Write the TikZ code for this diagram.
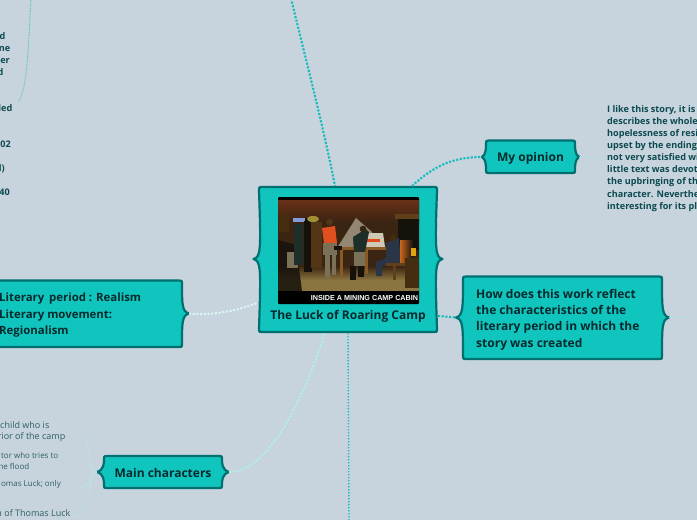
\documentclass[tikz,border=0pt]{standalone}
\usepackage{fontspec}
\setmainfont{Open Sans}
\newfontfamily\capfont{Liberation Sans}
\definecolor{bgc}{HTML}{C7D3DD}
\definecolor{boxfill}{HTML}{11C5BF}
\definecolor{boxline}{HTML}{006F70}
\definecolor{ink}{HTML}{06292C}
\definecolor{subink}{HTML}{0C4A50}
\definecolor{regink}{HTML}{2F5F66}
\definecolor{teal1}{HTML}{14BDBB}
\definecolor{pale1}{HTML}{DDF6F4}
\definecolor{pale2}{HTML}{A9E8E8}
\definecolor{cyan1}{HTML}{B2EEEE}
\definecolor{pwall}{HTML}{3A2412}
\definecolor{proof}{HTML}{6A3018}
\definecolor{pfloor}{HTML}{8A7440}
\definecolor{pdark}{HTML}{15120C}
\definecolor{pcloth}{HTML}{CFC8B4}
\definecolor{pwood}{HTML}{8A5A24}
\definecolor{pgrey}{HTML}{7B7058}
\definecolor{pshirt}{HTML}{E0501E}
\definecolor{pcoat}{HTML}{1E2E28}
\definecolor{pblue}{HTML}{2A3648}
\definecolor{pfire}{HTML}{C9661E}
\tikzset{
  anchorbox/.style={inner sep=0pt,outer sep=0pt,rectangle},
  outlinebox/.style={fill=boxfill,draw=boxline,line width=2.2pt,line join=round},
  titletext/.style={font=\bfseries\fontsize{12}{14}\selectfont,text=ink,inner sep=0pt},
  bigtext/.style={font=\bfseries\fontsize{12}{16.4}\selectfont,text=ink,inner sep=0pt,align=left,anchor=north west},
  leftbigtext/.style={font=\bfseries\fontsize{11.4}{16.4}\selectfont,text=ink,inner sep=0pt,align=left,anchor=north west},
  notetext/.style={font=\bfseries\fontsize{9.1}{12.1}\selectfont,text=subink,inner sep=0pt,align=left,anchor=north west},
  edgenote/.style={font=\bfseries\fontsize{9.1}{10}\selectfont,text=subink,inner sep=0pt,anchor=east},
  charnote/.style={font=\fontsize{9}{10}\selectfont,text=regink,inner sep=0pt,anchor=east},
  charnotesmall/.style={font=\fontsize{8}{10}\selectfont,text=regink,inner sep=0pt,anchor=east},
  thickdots/.style={dash pattern=on 2.1pt off 1.6pt,line width=2.1pt},
  middots/.style={dash pattern=on 1.4pt off 1.6pt,line width=1.4pt},
  finedots/.style={dash pattern=on 0.9pt off 1.1pt,line width=0.9pt},
}
% name, xl, yt, xr, yb, ymid, tip length, bow
\newcommand{\bracebox}[8]{%
  \pgfmathsetmacro{\xa}{#2+3}\pgfmathsetmacro{\xb}{#4-3}%
  \pgfmathsetmacro{\ya}{#3+3}\pgfmathsetmacro{\yb}{#5-3}%
  \pgfmathsetmacro{\tr}{#4+#7}\pgfmathsetmacro{\tl}{#2-#7}%
  \pgfmathsetmacro{\ca}{#6-2}\pgfmathsetmacro{\cb}{#6+2}%
  \pgfmathsetmacro{\da}{#6-9}\pgfmathsetmacro{\db}{#6+9}%
  \pgfmathsetmacro{\ir}{#4-#8}\pgfmathsetmacro{\il}{#2+#8}%
  \path[outlinebox] (\xa,#3) -- (\xb,#3) .. controls (#4,#3) and (#4,#3) .. (#4,\ya)
    .. controls (\ir,\da) and (\ir,\ca) .. (\tr,#6)
    .. controls (\ir,\cb) and (\ir,\db) .. (#4,\yb)
    .. controls (#4,#5) and (#4,#5) .. (\xb,#5) -- (\xa,#5)
    .. controls (#2,#5) and (#2,#5) .. (#2,\yb)
    .. controls (\il,\db) and (\il,\cb) .. (\tl,#6)
    .. controls (\il,\ca) and (\il,\da) .. (#2,\ya)
    .. controls (#2,#3) and (#2,#3) .. (\xa,#3) -- cycle;
  \node[anchorbox,minimum width={(#4-#2+2*#7)*1pt},minimum height={(#5-#3)*1pt}] (#1)
    at ({(#2+#4)/2},#6) {};%
}
\begin{document}
\begin{tikzpicture}[x=1pt,y=-1pt]
\useasboundingbox (0,0) rectangle (697,520);
\fill[bgc] (0,0) rectangle (697,520);
\clip (0,0) rectangle (697,520);

% free ends
\coordinate (topend) at (291,-2);
\coordinate (bottomend) at (349,522);
\coordinate (tlA) at (31,-2);
\coordinate (tlB) at (18,102);
\coordinate (opnote) at (603,157);
\coordinate (hownote) at (699,317);
\coordinate (ch1) at (76,430);
\coordinate (ch2) at (75,460);
\coordinate (ch3) at (76,488);
\coordinate (ch4) at (72,516);

% connector ends on the central box
\coordinate (ctop) at (335,186);
\coordinate (ctopr) at (412,186);
\coordinate (cleft) at (257,303);
\coordinate (cright) at (438,316);
\coordinate (cbot) at (325,333);
\coordinate (cbotb) at (348,333);

% nodes
\bracebox{central}{259}{187}{437}{332}{259}{5.5}{2}
\bracebox{opinion}{486}{140.5}{575}{173}{157}{4}{0}
\bracebox{literary}{-20}{280.5}{182}{347}{313.5}{7}{0}
\bracebox{howbox}{463}{276.5}{662}{359}{317.5}{7}{0}
\bracebox{maincha}{104}{456}{222}{488}{472}{7}{0}

% connectors
\draw[thickdots,teal1] (topend) .. controls (302,45) and (322,120) .. (ctop);
\draw[thickdots,teal1] (ctopr) .. controls (432,168) and (450,157) .. (opinion.west);
\draw[thickdots,pale1] (literary.east) .. controls (215,316) and (238,310) .. (cleft);
\draw[thickdots,teal1] (cright) -- (howbox.west);
\draw[thickdots,cyan1] (maincha.east) .. controls (270,472) and (305,395) .. (cbot);
\draw[middots,teal1] (cbotb) -- (bottomend);
\draw[finedots,pale2] (opinion.east) -- (opnote);
\draw[finedots,pale2] (howbox.east) -- (hownote);
\draw[finedots,teal1!70!bgc] (tlA) .. controls (29,30) and (28,92) .. (tlB);
\draw[finedots,cyan1] (maincha.west) .. controls (84,472) and (94,425) .. (ch1);
\draw[finedots,cyan1] (maincha.west) .. controls (85,472) and (97,460) .. (ch2);
\draw[finedots,cyan1] (maincha.west) .. controls (85,472) and (97,488) .. (ch3);
\draw[finedots,cyan1] (maincha.west) .. controls (86,472) and (96,516) .. (ch4);

% painting
\fill[black,rounded corners=1pt] (278,197) rectangle (419,304);
\begin{scope}
\clip (278,200) rectangle (419,290.5);
\fill[pwall] (278,200) rectangle (419,290.5);
\fill[top color=proof,bottom color=pwall] (278,200) rectangle (419,222);
\fill[pwood!70!black] (395,214) rectangle (419,219);
\fill[pdark] (398,219) rectangle (419,250);
\fill[top color=pwall,bottom color=pfloor] (278,266) rectangle (419,280);
\fill[pfloor] (278,280) rectangle (419,291);
\fill[pdark,opacity=.85] (278,240) -- (296,245) -- (302,291) -- (278,291) -- cycle;
\fill[pgrey] (287,252) rectangle (298,268);
\fill[pwood!50!black] (279,215) rectangle (289,232);
% window
\fill[cyan!40!blue!50!white] (293,218) rectangle (310,222);
% rear figures
\fill[pcoat] (294,224) rectangle (303,265);
\fill[pdark] (304,221) rectangle (312,272);
\fill[pdark] (305,218) rectangle (310,224);
\fill[pfloor!80!yellow] (313,219) ellipse (6pt and 3pt);
\fill[pwood!60!black] (311,222) rectangle (322,268);
% lit cloth
\fill[pcloth,opacity=.6] (337,248) -- (356,218) -- (372,232) -- (372,248) -- cycle;
\fill[pcloth] (365,233) -- (383,233) -- (385,247) -- (362,247) -- cycle;
\fill[pshirt!90!red] (367,239) rectangle (380,242);
% table
\fill[pwood] (335,247) rectangle (387,250);
\fill[pwood] (340,250) rectangle (342.5,277);
\fill[pwood] (365,250) rectangle (367.5,274);
% red-shirt man
\fill[pshirt] (322,228) -- (335,226) -- (337,243) -- (324,243) -- cycle;
\fill[pwood!60!black] (329.5,222) circle (3.3pt);
\fill[pgrey] (323,243) rectangle (337,255);
\fill[pgrey] (325,255) rectangle (330,278);
\fill[pgrey] (332,255) rectangle (336,275);
\fill[pdark] (334,246) rectangle (342,250);
% dark green man
\fill[pcoat] (353,237) -- (366,229) -- (369,232) -- (365,252) -- (354,252) -- cycle;
\fill[pwood!40!black] (363,229) circle (3.3pt);
\fill[pgrey] (354,252) rectangle (365,266);
\fill[pdark] (350,266) rectangle (356,280);
\fill[pdark] (358,266) rectangle (364,277);
% seated man
\fill[pblue] (386,243) -- (399,238) -- (401,262) -- (382,266) -- (382,276) -- (376,276) -- (376,262) -- (386,258) -- cycle;
\fill[pwood!50!black] (393,238) circle (3pt);
% bench, fire, barrel
\fill[pwood!70!black] (386,263) rectangle (405,266);
\fill[pwood!70!black] (393,266) rectangle (396,280);
\fill[left color=pfire,right color=pdark] (400,240) rectangle (413,262);
\fill[pfire!60!yellow] (411,248) rectangle (416,256);
\fill[pwood!50!black] (405,258) rectangle (419,288);
\end{scope}
\node[anchor=east,inner sep=0pt,text=white,font=\capfont\bfseries\fontsize{7.2}{8}\selectfont] (captiontext) at (418.3,297.7) {INSIDE A MINING CAMP CABIN};

% box labels
\node[titletext] (centrallabel) at (348,316) {The Luck of Roaring Camp};
\node[titletext] (opinionlabel) at (530.5,158) {My opinion};
\node[titletext] (mainlabel) at (163,473) {Main characters};
\node[bigtext] (howlabel) at (476,288.8) {How does this work reflect\\the characteristics of the\\literary period in which the\\story was created};
\node[leftbigtext] (literarylabel) at (-1,293) {Literary\ \,period : Realism\\Literary movement:\\Regionalism};

% right note
\node[notetext,anchor=north west] (opinionnote) at (607,105.2) {I like this story, it is\\describes the whole\\hopelessness of resi\\upset by the ending\\not very satisfied wi\\little text was devot\\the upbringing of th\\character. Neverthe\\interesting for its pl};

% left cut-off notes
\node[edgenote] (n1) at (5.5,36.5) {d};
\node[edgenote] (n2) at (10.5,49) {ne};
\node[edgenote] (n3) at (10,61) {er};
\node[edgenote] (n4) at (3.5,72.5) {d};
\node[edgenote] (n5) at (12.5,108.5) {led};
\node[edgenote] (n6) at (11,144.5) {02};
\node[edgenote] (n7) at (5,169) {l)};
\node[edgenote] (n8) at (10,192.5) {40};

% characters
\node[charnote] (c1) at (49.5,425) {child who is};
\node[charnote] (c2) at (65.5,437) {rior of the camp};
\node[charnotesmall] (c3) at (58.5,455) {tor who tries to};
\node[charnotesmall] (c4) at (29.5,466) {he flood};
\node[charnotesmall] (c5) at (61,484.5) {omas Luck; only};
\node[charnote] (c6) at (70.5,513.5) {n of Thomas Luck};
\end{tikzpicture}
\end{document}
